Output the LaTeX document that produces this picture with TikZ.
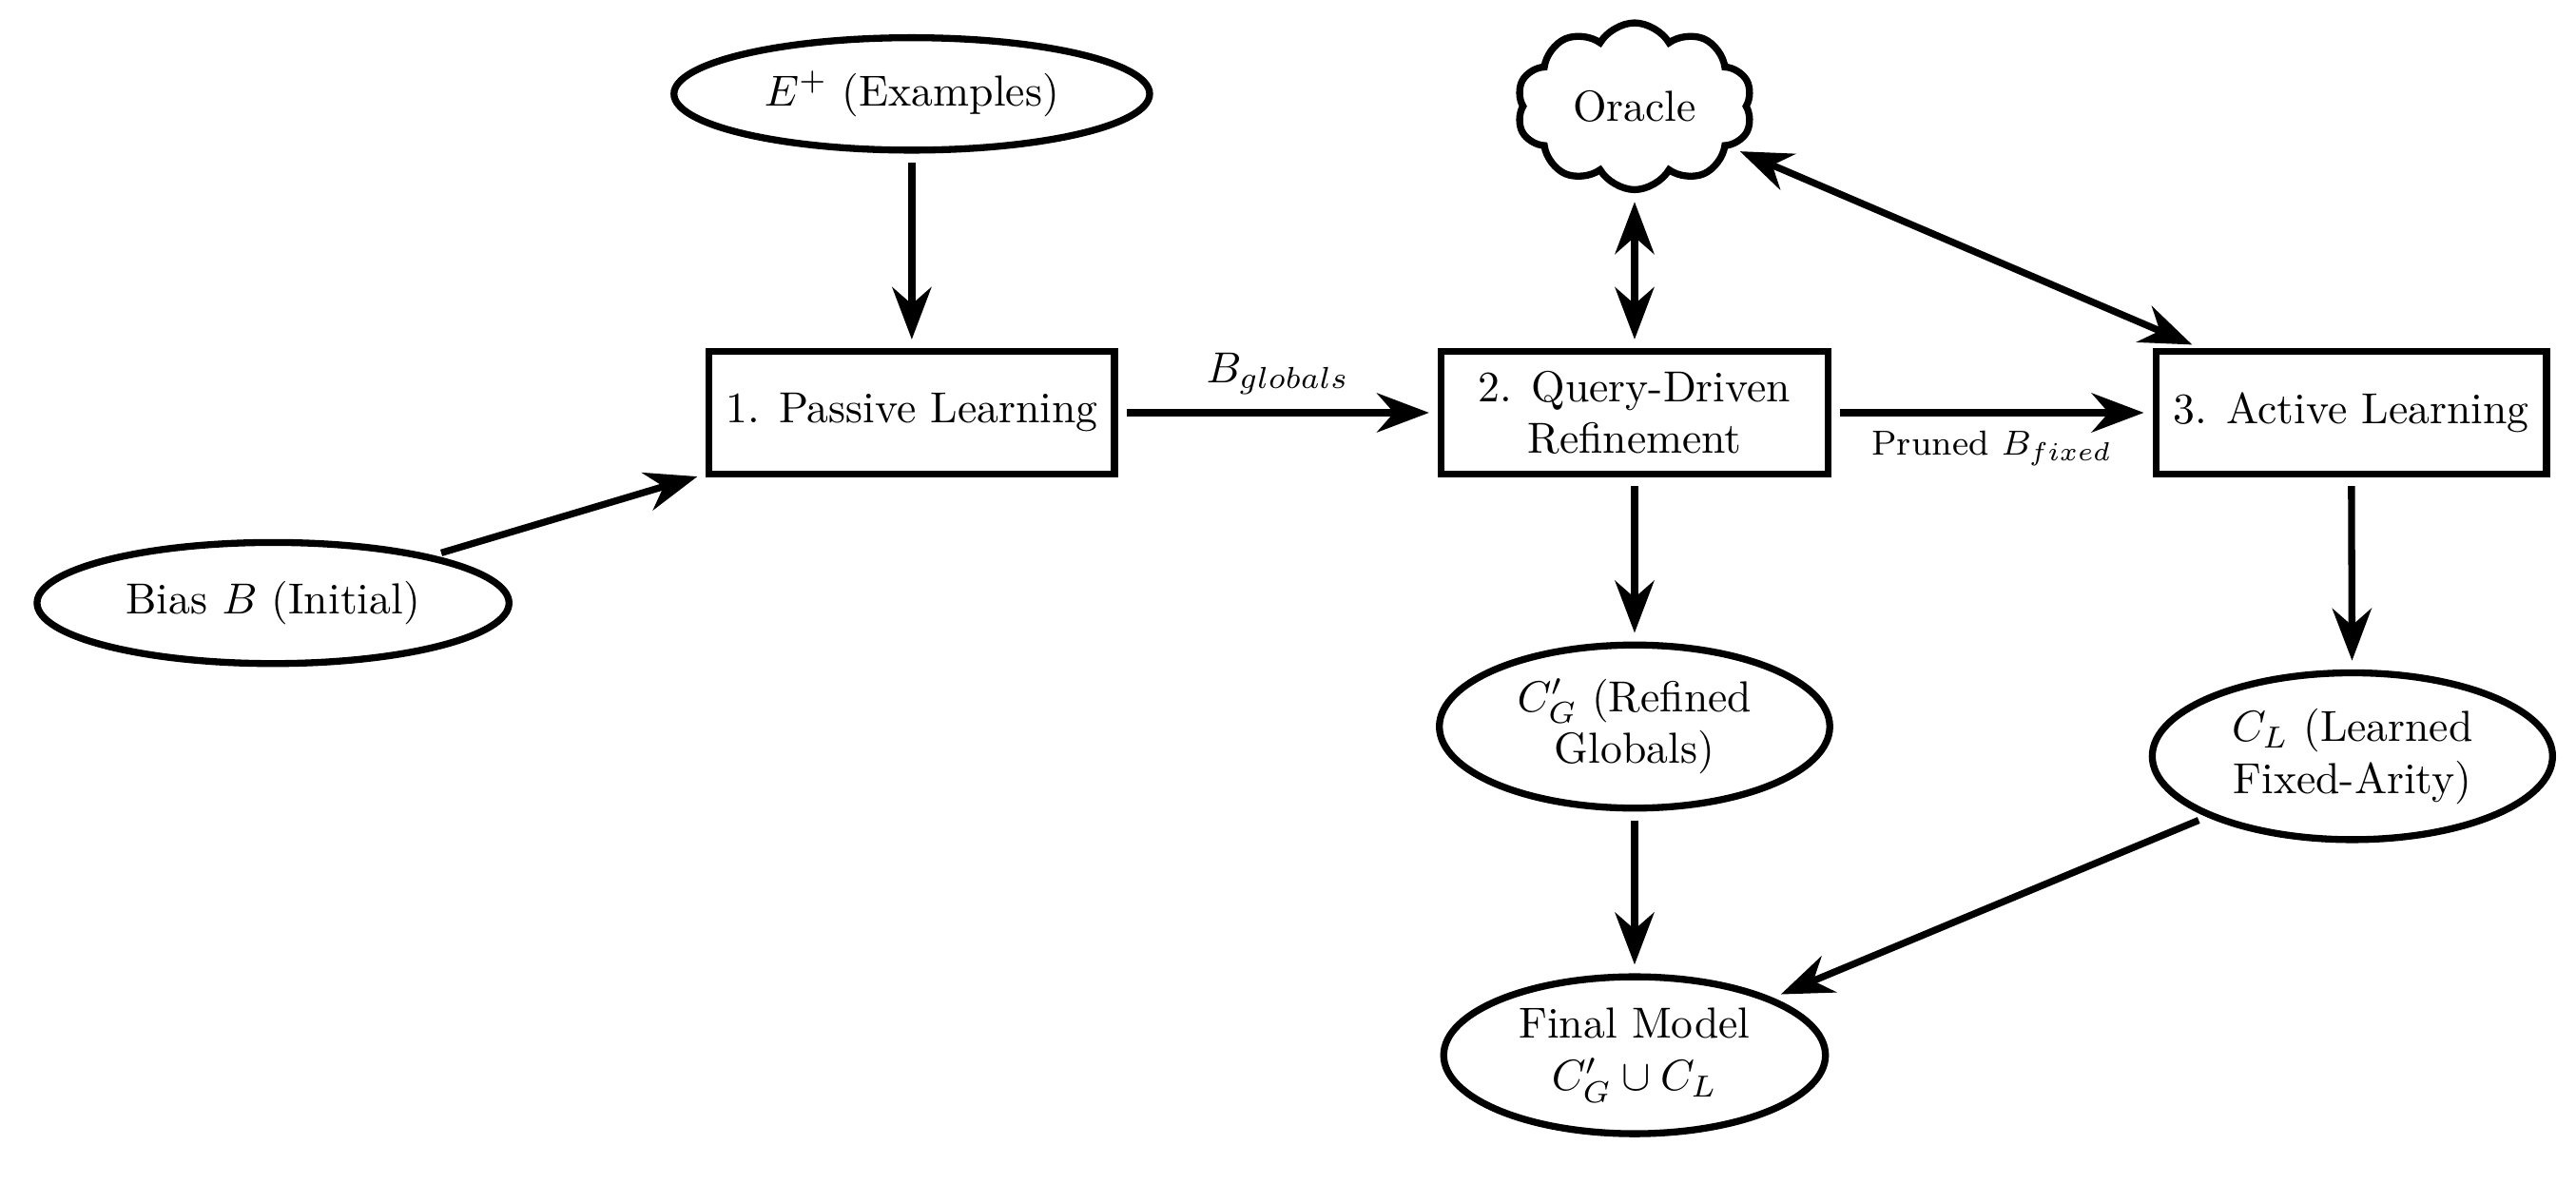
\documentclass[tikz,border=0pt]{standalone}
\usepackage{amsmath,amssymb}
\usepackage{tikz}
\usetikzlibrary{shapes,shapes.symbols,arrows.meta,positioning,calc}

\begin{document}
\begin{tikzpicture}[
    box/.style={draw, ultra thick, rectangle, align=center, inner sep=2pt},
    oval/.style={draw, ultra thick, ellipse, align=center, inner sep=1pt},
    flow/.style={ultra thick, -{Stealth[length=12pt,width=9pt]}, shorten >=2pt, shorten <=2pt},
    twoway/.style={ultra thick, {Stealth[length=12pt,width=9pt]}-{Stealth[length=12pt,width=9pt]}, shorten >=2pt, shorten <=2pt}
]
    \useasboundingbox (0,0) rectangle (20.85,-9.575);

    % Inputs
    \node[oval, minimum width=3.85cm, minimum height=0.91cm] (ex) at (7.38,-0.76) {$E^+$ (Examples)};
    \node[oval, minimum width=3.82cm, minimum height=0.98cm] (bias) at (2.21,-4.88) {Bias $B$ (Initial)};
    \node[draw, ultra thick, cloud, cloud puffs=10, cloud puff arc=120, aspect=1.4, inner sep=1pt,
          minimum width=1.91cm, minimum height=1.35cm] (oracle) at (13.23,-0.86) {Oracle};

    % Stages
    \node[box, minimum width=3.28cm, minimum height=0.99cm] (p1) at (7.38,-3.34) {1. Passive Learning};
    \node[box, minimum width=3.13cm, minimum height=0.99cm] (p2) at (13.23,-3.34) {2. Query-Driven\\Refinement};
    \node[box, minimum width=3.16cm, minimum height=0.99cm] (p3) at (19.03,-3.34) {3. Active Learning};

    % Outputs
    \node[oval, minimum width=3.16cm, minimum height=1.32cm] (cg) at (13.23,-5.88) {$C'_G$ (Refined\\Globals)};
    \node[oval, minimum width=3.24cm, minimum height=1.35cm] (cl) at (19.04,-6.12) {$C_L$ (Learned\\Fixed-Arity)};
    \node[oval, minimum width=3.09cm, minimum height=1.27cm] (final) at (13.23,-8.54) {Final Model\\$C'_G \cup C_L$};

    % Flow
    \draw[flow] (ex) -- (p1);
    \draw[flow] (bias) -- (p1);
    \draw[flow] (p1) -- node[above] {$B_{globals}$} (p2);
    \draw[flow] (p2) -- node[below] {\footnotesize Pruned $B_{fixed}$} (p3);
    \draw[twoway] (p2) -- (oracle);
    \draw[twoway] (oracle) -- (p3);
    \draw[flow] (p2) -- (cg);
    \draw[flow] (p3) -- (cl);
    \draw[flow] (cg) -- (final);
    \draw[flow] (cl) -- (final);
\end{tikzpicture}
\end{document}
